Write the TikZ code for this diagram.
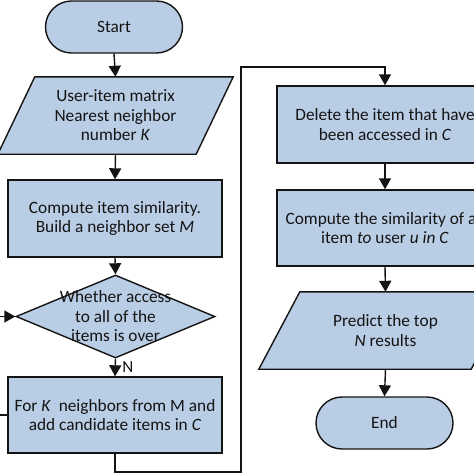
\documentclass[tikz,border=0pt]{standalone}
\usepackage{fontspec}
\setmainfont{Carlito}
\usetikzlibrary{arrows.meta,shapes.geometric,shapes.misc,backgrounds}
\definecolor{boxfill}{HTML}{B9CDE5}
\definecolor{ink}{HTML}{141414}
\tikzset{
  txt/.style={font=\fontsize{17.3}{19.5}\selectfont},
  base/.style={draw=ink, line width=1.4pt, fill=boxfill, text=ink, align=center, inner sep=0pt, txt},
  procbox/.style={base, rectangle, minimum width=#1, minimum height=77pt},
  term/.style={base, rounded rectangle, minimum width=137pt, minimum height=52pt},
  iotext/.style={draw=none, fill=none, text=ink, align=center, inner sep=0pt, txt,
    minimum width=#1, minimum height=77pt},
  iofill/.style={draw=ink, line width=1.4pt, fill=boxfill, line join=miter},
  decide/.style={base, diamond, minimum width=199pt, minimum height=83pt},
  conn/.style={draw=ink, line width=1.4pt, -{Triangle[width=12pt,length=11pt]}},
}
\begin{document}
\begin{tikzpicture}[x=1pt,y=-1pt]
\useasboundingbox (0,0) rectangle (474,474);
% left column
\node[term] (start) at (114,27) {Start};
\node[iotext=198pt] (inp) at (115.5,115.5) {User-item matrix\\Nearest neighbor\\number \textit{K}};
\node[procbox=214pt] (sim) at (115,218.5) {Compute item similarity.\\Build a neighbor set \textit{M}};
\node[decide] (dec) at (115.5,316.5) {};
\node[iotext=150pt, minimum height=10pt] (dectext) at (dec.center) {Whether access\\to all of the\\items is over};
\node[procbox=214pt, minimum height=76pt] (cand) at (115,415) {For \textit{K}\ \ neighbors from M and\\add candidate items in \textit{C}};
% right column
\node[procbox=216pt] (del) at (385,124.5) {Delete the item that have\\been accessed in \textit{C}};
\node[procbox=216pt, minimum height=76pt] (simu) at (385,228) {Compute the similarity of all\\item \textit{to} user \textit{u in C}};
\node[iotext=212pt] (pred) at (385.5,330.5) {Predict the top\\\textit{N} results};
\node[term] (end) at (384.5,423) {End};
% parallelograms behind their text
\begin{scope}[on background layer]
\draw[iofill] ([xshift=18.5pt]inp.north west) -- ([xshift=18.5pt]inp.north east)
  -- ([xshift=-18.5pt]inp.south east) -- ([xshift=-18.5pt]inp.south west) -- cycle;
\draw[iofill] ([xshift=20.5pt]pred.north west) -- ([xshift=20.5pt]pred.north east)
  -- ([xshift=-20.5pt]pred.south east) -- ([xshift=-20.5pt]pred.south west) -- cycle;
\end{scope}
% connectors
\draw[conn] (start.south) -- (inp.north);
\draw[conn] (inp.south) -- (sim.north);
\draw[conn] (sim.south) -- (dec.north);
\draw[conn] (dec.south) -- node[right, pos=0.45, xshift=3pt, text=ink, font=\fontsize{17}{18}\selectfont] {N} (cand.north);
\coordinate (loopL) at (-12,415);
\draw[conn] (cand.west) -- (loopL) |- (dec.west);
\coordinate (cornerB) at (241,472);
\coordinate (cornerT) at (241,67);
\draw[conn] (cand.south) |- (cornerB) -- (cornerT) -| (del.north);
\draw[conn] (del.south) -- (simu.north);
\draw[conn] (simu.south) -- (pred.north);
\draw[conn] (pred.south) -- (end.north);
\end{tikzpicture}
\end{document}
